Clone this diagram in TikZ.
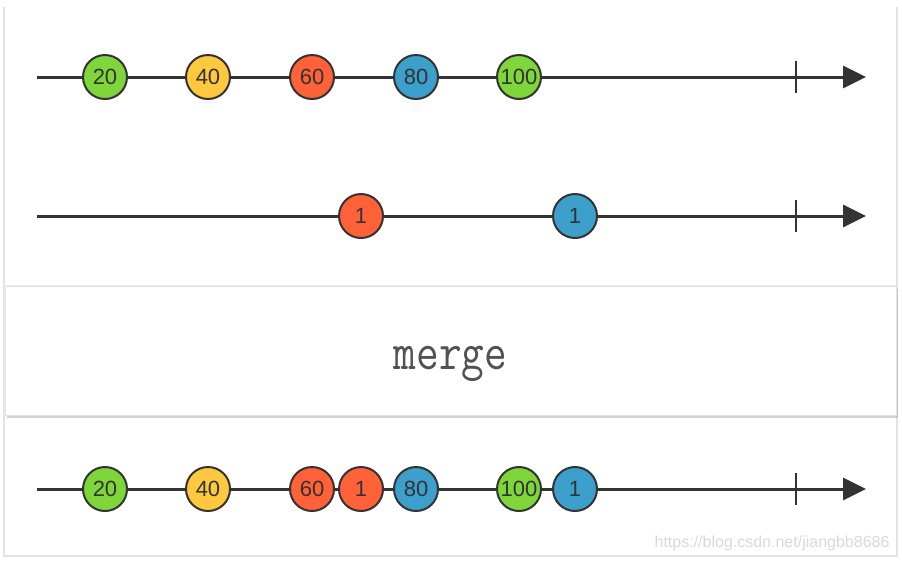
\documentclass[tikz,border=0pt]{standalone}
\usepackage{fontspec}
\setmainfont{Liberation Sans}
\usetikzlibrary{arrows.meta,shadows}
\definecolor{cgreen}{HTML}{7ED63A}
\definecolor{cyellow}{HTML}{FFC83E}
\definecolor{cred}{HTML}{FF6138}
\definecolor{cblue}{HTML}{3D9FCC}
\definecolor{ink}{HTML}{333333}
\definecolor{frame}{HTML}{E4E4E4}
\tikzset{
  marble/.style={circle, draw=ink, line width=2pt, minimum size=44pt, inner sep=0pt,
    font=\fontsize{22}{22}\selectfont, text=ink},
  gm/.style={marble, fill=cgreen},
  ym/.style={marble, fill=cyellow},
  rm/.style={marble, fill=cred},
  bm/.style={marble, fill=cblue},
  timeline/.style={draw=ink, line width=3pt, -{Triangle[length=23pt,width=22pt]}},
  tick/.style={draw=ink, line width=2.4pt},
}
\begin{document}
\begin{tikzpicture}[x=1pt,y=-1pt]
\useasboundingbox (0,0) rectangle (902,563);
\fill[white] (0,0) rectangle (902,563);
% outer frame
\draw[frame, line width=1.5pt] (4,7) -- (4,556) -- (897,556) -- (897,7);
\draw[frame!70, line width=1pt] (4,285) -- (897,285);
% timelines
\foreach \n/\y in {a/77,b/216,c/489}{
  \coordinate (\n s) at (37,\y);
  \coordinate (\n e) at (866,\y);
  \coordinate (\n t1) at (796,\y-16);
  \coordinate (\n t2) at (796,\y+16);
  \draw[timeline] (\n s) -- (\n e);
  \draw[tick] (\n t1) -- (\n t2);
}
% row 1
\node[gm] (a1) at (105,77) {20};
\node[ym] (a2) at (208,77) {40};
\node[rm] (a3) at (312,77) {60};
\node[bm] (a4) at (416,77) {80};
\node[gm] (a5) at (519,77) {100};
% row 2
\node[rm] (b1) at (361,216) {1};
\node[bm] (b2) at (575,216) {1};
% merge box
\node[draw=frame, fill=white, line width=0.8pt, minimum width=891pt, minimum height=129pt,
  drop shadow={shadow xshift=1.5pt, shadow yshift=-3pt, fill=black!35, opacity=0.5},
  inner sep=0pt] (mbox) at (450.5,350.5) {};
\node[text=ink!85, font=\ttfamily\fontsize{44}{44}\selectfont, inner sep=0pt, anchor=base] (mtext) at (450.5,369) {\scalebox{1}[1.2]{merge}};
% row 3
\node[gm] (c1) at (105,489) {20};
\node[ym] (c2) at (208,489) {40};
\node[rm] (c3) at (312,489) {60};
\node[rm] (c4) at (361,489) {1};
\node[bm] (c5) at (416,489) {80};
\node[gm] (c6) at (519,489) {100};
\node[bm] (c7) at (575,489) {1};
% watermark
\node[anchor=east, text=black!15, font=\fontsize{16}{16}\selectfont] (wm) at (893,543) {https://blog.csdn.net/jiangbb8686};
\end{tikzpicture}
\end{document}
